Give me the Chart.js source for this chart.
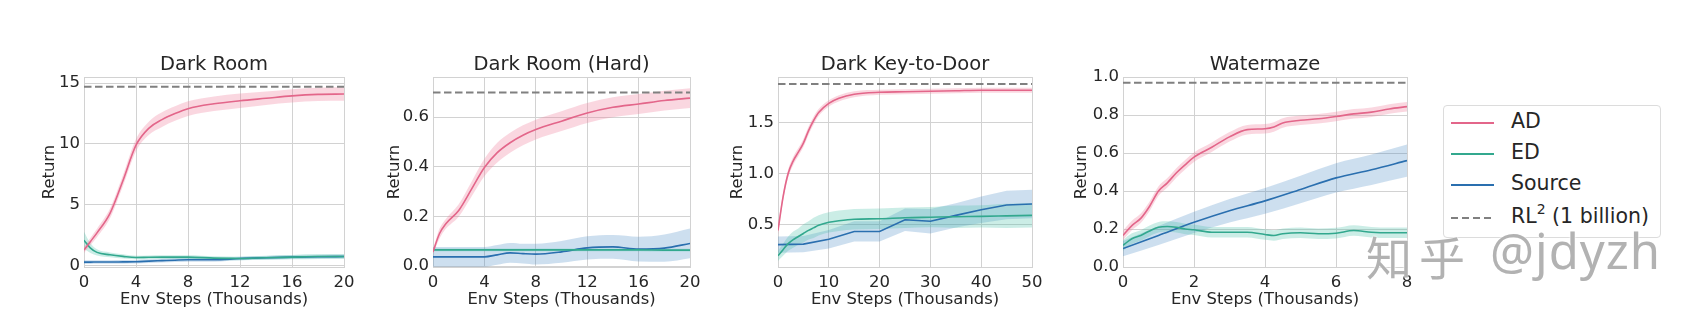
<!DOCTYPE html>
<html>
<head>
<meta charset="utf-8">
<script src="https://cdn.jsdelivr.net/npm/chart.js@4.4.0/dist/chart.umd.min.js"></script>
<style>
body { margin:0; background:#fff; width:1701px; height:335px; overflow:hidden; position:relative; font-family:'DejaVu Sans', sans-serif; }
.panel { position:absolute; top:0; height:335px; }
#legend { position:absolute; left:1443px; top:105px; width:216px; height:131px; border:1px solid #dcdcdc; border-radius:4px; background:#fff; }
#legend .row { position:absolute; left:0; height:31px; width:100%; }
#legend .ln { position:absolute; left:7px; top:15px; width:43px; height:2px; }
#legend .tx { position:absolute; left:67px; top:2px; font-size:20.5px; color:#262626; white-space:nowrap; }
#legend sup { font-size:14px; vertical-align:9px; line-height:0; }
.mark { position:absolute; color:rgba(165,165,165,0.85); text-shadow:0 0 2px #fff, 0 0 2px #fff; white-space:nowrap; line-height:1; }
#mark1 { left:1366px; top:232px; font-family:'Noto Sans CJK SC'; font-size:46px; letter-spacing:7px; }
#mark2 { left:1490px; top:226px; font-family:'Noto Sans'; font-size:49px; letter-spacing:1px; }
</style>
</head>
<body>
<div class="panel" id="p0"><canvas id="c0"></canvas></div>
<div class="panel" id="p1"><canvas id="c1"></canvas></div>
<div class="panel" id="p2"><canvas id="c2"></canvas></div>
<div class="panel" id="p3"><canvas id="c3"></canvas></div>
<div id="legend"></div>
<div class="mark" id="mark1">知乎</div>
<div class="mark" id="mark2">@jdyzh</div>
<script>
var panelTitles = ["Dark Room", "Dark Room (Hard)", "Dark Key-to-Door", "Watermaze"];
var seriesNames = ["AD", "ED", "Source"];
var rl2Name = "RL<sup>2</sup> (1 billion)";
var rl2Values = [14.7, 0.70, 1.88, 0.97];

// Dark Room
var darkRoomSteps = [0, 0.5, 1, 2, 3, 4, 5, 6, 7, 8, 10, 12, 14, 16, 18, 20];
var darkRoomAD = [1.3, 2.0, 2.7, 4.3, 7.0, 9.9, 11.3, 12.0, 12.5, 12.9, 13.3, 13.55, 13.75, 13.95, 14.07, 14.1];
var darkRoomADErr = [0.25, 0.3, 0.35, 0.4, 0.45, 0.5, 0.55, 0.6, 0.6, 0.6, 0.6, 0.6, 0.55, 0.55, 0.55, 0.55];
var darkRoomED = [2.1, 1.45, 1.1, 0.9, 0.77, 0.68, 0.7, 0.71, 0.71, 0.71, 0.63, 0.6, 0.66, 0.71, 0.76, 0.76];
var darkRoomEDErr = [0.7, 0.4, 0.25, 0.2, 0.18, 0.15, 0.15, 0.15, 0.15, 0.15, 0.15, 0.15, 0.17, 0.18, 0.2, 0.2];
var darkRoomSource = [0.3, 0.3, 0.31, 0.31, 0.32, 0.33, 0.38, 0.42, 0.46, 0.49, 0.49, 0.6, 0.66, 0.71, 0.74, 0.76];
var darkRoomSourceErr = [0.15, 0.15, 0.15, 0.15, 0.15, 0.15, 0.15, 0.15, 0.15, 0.15, 0.15, 0.15, 0.15, 0.15, 0.15, 0.15];

// Dark Room (Hard)
var hardSteps = [0, 0.5, 1, 2, 3, 4, 5, 6, 7, 8, 10, 12, 14, 16, 18, 20];
var hardAD = [0.057, 0.13, 0.17, 0.224, 0.31, 0.397, 0.457, 0.497, 0.527, 0.55, 0.584, 0.617, 0.64, 0.653, 0.667, 0.677];
var hardADErr = [0.01, 0.02, 0.02, 0.025, 0.03, 0.035, 0.04, 0.04, 0.04, 0.04, 0.04, 0.04, 0.04, 0.04, 0.04, 0.04];
var hardED = [0.065, 0.065, 0.065, 0.065, 0.065, 0.065, 0.065, 0.065, 0.065, 0.065, 0.065, 0.065, 0.065, 0.065, 0.064, 0.064];
var hardEDErr = [0.006, 0.006, 0.006, 0.006, 0.006, 0.006, 0.006, 0.006, 0.006, 0.006, 0.006, 0.006, 0.006, 0.006, 0.006, 0.006];
var hardSource = [0.037, 0.037, 0.037, 0.037, 0.037, 0.037, 0.045, 0.053, 0.05, 0.048, 0.057, 0.073, 0.077, 0.068, 0.072, 0.091];
var hardSourceErr = [0.04, 0.04, 0.04, 0.04, 0.04, 0.04, 0.04, 0.04, 0.04, 0.042, 0.044, 0.047, 0.048, 0.05, 0.055, 0.06];

// Dark Key-to-Door
var keyDoorSteps = [0, 1, 2, 3, 4, 5, 6, 7, 8, 10, 12, 15, 20, 25, 30, 35, 40, 45, 50];
var keyDoorAD = [0.44, 0.77, 1.0, 1.125, 1.21, 1.3, 1.42, 1.52, 1.6, 1.69, 1.74, 1.78, 1.8, 1.805, 1.81, 1.815, 1.82, 1.82, 1.82];
var keyDoorADErr = [0.04, 0.04, 0.04, 0.04, 0.04, 0.04, 0.04, 0.04, 0.035, 0.03, 0.03, 0.03, 0.025, 0.025, 0.025, 0.025, 0.025, 0.025, 0.025];
var keyDoorED = [0.19, 0.25, 0.31, 0.35, 0.38, 0.41, 0.44, 0.465, 0.49, 0.52, 0.535, 0.55, 0.555, 0.565, 0.57, 0.575, 0.578, 0.583, 0.588];
var keyDoorEDErr = [0.05, 0.06, 0.07, 0.08, 0.08, 0.09, 0.09, 0.1, 0.1, 0.1, 0.1, 0.1, 0.1, 0.1, 0.1, 0.11, 0.11, 0.12, 0.12];
var keyDoorSourceSteps = [0, 5, 10, 15, 20, 25, 30, 35, 40, 45, 50];
var keyDoorSource = [0.30, 0.305, 0.353, 0.43, 0.43, 0.545, 0.53, 0.588, 0.643, 0.69, 0.70];
var keyDoorSourceErr = [0.08, 0.08, 0.09, 0.1, 0.1, 0.11, 0.12, 0.12, 0.13, 0.14, 0.14];

// Watermaze
var waterSteps = [0, 0.25, 0.5, 0.75, 1, 1.25, 1.5, 1.75, 2, 2.5, 3, 3.5, 4, 4.25, 4.5, 5, 5.5, 6, 6.5, 7, 7.5, 8];
var waterAD = [0.166, 0.218, 0.256, 0.32, 0.4, 0.443, 0.495, 0.538, 0.578, 0.63, 0.685, 0.723, 0.728, 0.737, 0.758, 0.772, 0.78, 0.792, 0.806, 0.815, 0.832, 0.844];
var waterADErr = [0.025, 0.025, 0.025, 0.025, 0.025, 0.025, 0.025, 0.025, 0.025, 0.025, 0.025, 0.025, 0.025, 0.025, 0.025, 0.025, 0.025, 0.025, 0.025, 0.025, 0.025, 0.025];
var waterED = [0.114, 0.149, 0.166, 0.19, 0.209, 0.213, 0.209, 0.2, 0.196, 0.183, 0.183, 0.183, 0.171, 0.166, 0.175, 0.18, 0.175, 0.178, 0.192, 0.183, 0.18, 0.18];
var waterEDErr = [0.028, 0.028, 0.028, 0.028, 0.028, 0.028, 0.028, 0.028, 0.028, 0.028, 0.028, 0.028, 0.028, 0.028, 0.028, 0.028, 0.028, 0.028, 0.028, 0.028, 0.028, 0.028];
var waterSourceSteps = [0, 1, 2, 3, 4, 5, 6, 7, 8];
var waterSource = [0.097, 0.166, 0.235, 0.296, 0.348, 0.408, 0.469, 0.512, 0.56];
var waterSourceErr = [0.04, 0.05, 0.056, 0.062, 0.068, 0.072, 0.077, 0.08, 0.085];

// axes
var xTicks = [[0, 4, 8, 12, 16, 20], [0, 4, 8, 12, 16, 20], [0, 10, 20, 30, 40, 50], [0, 2, 4, 6, 8]];
var yTicks = [[0, 5, 10, 15], [0, 0.2, 0.4, 0.6], [0.5, 1.0, 1.5], [0, 0.2, 0.4, 0.6, 0.8, 1.0]];
var yTickLabels = [["0", "5", "10", "15"], ["0.0", "0.2", "0.4", "0.6"], ["0.5", "1.0", "1.5"], ["0.0", "0.2", "0.4", "0.6", "0.8", "1.0"]];
var yRanges = [[-0.1, 15.5], [-0.004, 0.762], [0.08, 1.95], [0, 1.0]];

var lineColors = ["#e3668a", "#32a88e", "#2a6faf"];
var bandColors = ["rgba(240,130,160,0.32)", "rgba(70,190,165,0.28)", "rgba(60,130,195,0.26)"];
var gridColor = "#d2d2d2";
var textColor = "#262626";

// plot area boxes (page pixels) and y label offsets
var layout = [
	{left: 84, right: 344, labelGap: 34.3},
	{left: 433, right: 690, labelGap: 38.3},
	{left: 778, right: 1032, labelGap: 39.9},
	{left: 1123, right: 1407, labelGap: 41.5}
];
var plotTop = 77, plotBottom = 267, yAxisW = 70, padRight = 20;

var panelData = [
	[[darkRoomSteps, darkRoomAD, darkRoomADErr], [darkRoomSteps, darkRoomED, darkRoomEDErr], [darkRoomSteps, darkRoomSource, darkRoomSourceErr]],
	[[hardSteps, hardAD, hardADErr], [hardSteps, hardED, hardEDErr], [hardSteps, hardSource, hardSourceErr]],
	[[keyDoorSteps, keyDoorAD, keyDoorADErr], [keyDoorSteps, keyDoorED, keyDoorEDErr], [keyDoorSourceSteps, keyDoorSource, keyDoorSourceErr]],
	[[waterSteps, waterAD, waterADErr], [waterSteps, waterED, waterEDErr], [waterSourceSteps, waterSource, waterSourceErr]]
];

Chart.defaults.font.family = "'DejaVu Sans', sans-serif";
Chart.defaults.color = textColor;
Chart.defaults.animation = false;

var framePlugin = {
	id: "frame",
	beforeDatasetsDraw: function(chart){
		var a = chart.chartArea, ctx = chart.ctx;
		ctx.save();
		ctx.strokeStyle = gridColor;
		ctx.lineWidth = 1;
		ctx.strokeRect(Math.round(a.left) + 0.5, Math.round(a.top) + 0.5, Math.round(a.right - a.left), Math.round(a.bottom - a.top));
		ctx.restore();
	}
};

function points(xs, ys, errs, sign)
{
	var out = [];
	for(var k = 0; k < xs.length; k++)
		out.push({x: xs[k], y: ys[k] + sign * (errs ? errs[k] : 0)});
	return out;
}

function makePanel(i)
{
	var box = layout[i];
	var div = document.getElementById("p" + i);
	div.style.left = (box.left - yAxisW) + "px";
	div.style.width = (box.right - box.left + yAxisW + padRight) + "px";

	var datasets = [];
	var linear = (i == 2) ? [false, false, true] : [false, false, false];
	for(var s = 0; s < 3; s++)
	{
		var d = panelData[i][s];
		var mode = linear[s] ? "default" : "monotone";
		datasets.push({data: points(d[0], d[1], d[2], -1), borderWidth: 0, pointRadius: 0, fill: false, order: 2, cubicInterpolationMode: mode});
		datasets.push({data: points(d[0], d[1], d[2], 1), borderWidth: 0, pointRadius: 0, fill: "-1", backgroundColor: bandColors[s], order: 2, cubicInterpolationMode: mode});
		datasets.push({label: seriesNames[s], data: points(d[0], d[1], null, 0), borderColor: lineColors[s], borderWidth: 1.6, pointRadius: 0, fill: false, order: 1, cubicInterpolationMode: mode});
	}
	var xt = xTicks[i];
	datasets.push({label: "RL2", data: [{x: xt[0], y: rl2Values[i]}, {x: xt[xt.length - 1], y: rl2Values[i]}], borderColor: "#808080", borderWidth: 2, borderDash: [7.5, 3.5], pointRadius: 0, fill: false, order: 0});

	new Chart(document.getElementById("c" + i), {
		type: "line",
		data: {datasets: datasets},
		plugins: [framePlugin],
		options: {
			responsive: true,
			maintainAspectRatio: false,
			layout: {autoPadding: false, padding: {left: 0, right: padRight, top: 0, bottom: 0}},
			plugins: {
				legend: {display: false},
				tooltip: {enabled: false},
				title: {
					display: true,
					text: panelTitles[i],
					fullSize: false,
					color: textColor,
					font: {size: 19.5, weight: "normal", lineHeight: 1},
					padding: {top: 55.5, bottom: plotTop - 55.5 - 19.5}
				}
			},
			scales: {
				x: {
					type: "linear",
					min: xt[0],
					max: xt[xt.length - 1],
					afterBuildTicks: function(sc){ sc.ticks = xt.map(function(v){ return {value: v}; }); },
					afterFit: function(sc){ sc.height = 335 - plotBottom; },
					grid: {color: gridColor, drawTicks: false},
					border: {display: false},
					ticks: {font: {size: 16.5}, color: textColor, padding: 6, maxRotation: 0, callback: function(v){ return String(v); }},
					title: {display: true, text: "Env Steps (Thousands)", color: textColor, font: {size: 16.4}, padding: {top: 0, bottom: 25}}
				},
				y: {
					type: "linear",
					min: yRanges[i][0],
					max: yRanges[i][1],
					afterBuildTicks: function(sc){ sc.ticks = yTicks[i].map(function(v){ return {value: v}; }); },
					afterFit: function(sc){ sc.width = yAxisW; },
					grid: {color: gridColor, drawTicks: false},
					border: {display: false},
					ticks: {font: {size: 16.5}, color: textColor, padding: 4, callback: function(v, idx){ return yTickLabels[i][idx]; }},
					title: {display: true, text: "Return", color: textColor, font: {size: 16.4}, padding: {top: yAxisW - box.labelGap - 9.8, bottom: 0}}
				}
			}
		}
	});
}

for(var p = 0; p < 4; p++)
	makePanel(p);

// legend
var legend = document.getElementById("legend");
var rowCenters = [17.3, 48.3, 79.3, 111.7];
for(var r = 0; r < 4; r++)
{
	var row = document.createElement("div");
	row.className = "row";
	row.style.top = (rowCenters[r] - 16) + "px";
	var ln = document.createElement("span");
	ln.className = "ln";
	if(r < 3)
		ln.style.background = lineColors[r];
	else
		ln.style.background = "repeating-linear-gradient(to right, #808080 0 7px, transparent 7px 11px)";
	var tx = document.createElement("span");
	tx.className = "tx";
	tx.innerHTML = (r < 3) ? seriesNames[r] : rl2Name;
	row.appendChild(ln);
	row.appendChild(tx);
	legend.appendChild(row);
}
</script>
</body>
</html>
